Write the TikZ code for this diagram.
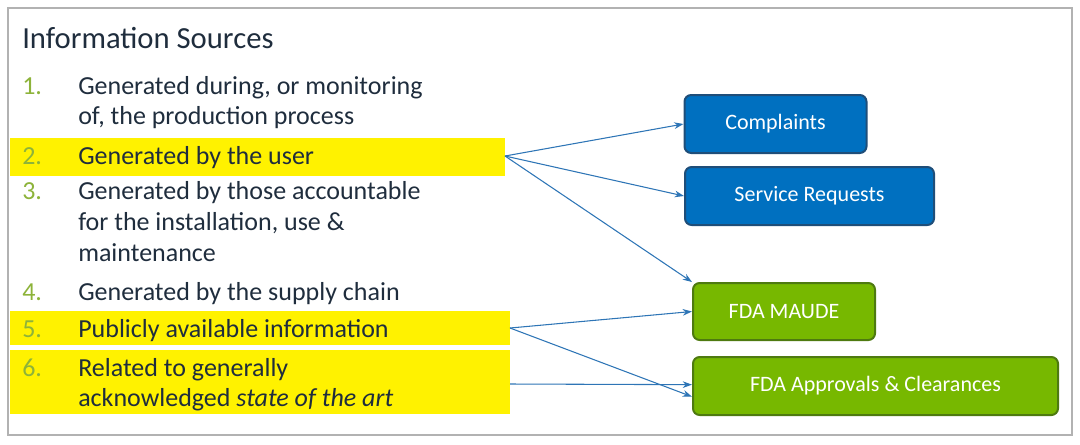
\documentclass[tikz,border=0pt]{standalone}
\usepackage{fontspec}
\setmainfont{Carlito}
\definecolor{numg}{HTML}{8DB33A}
\definecolor{txt}{HTML}{1F2D3D}
\definecolor{bfill}{HTML}{0070C0}
\definecolor{bline}{HTML}{1F4E79}
\definecolor{gfill}{HTML}{77B800}
\definecolor{gline}{HTML}{4E7A10}
\definecolor{arr}{HTML}{2E75B6}
\usetikzlibrary{arrows.meta}
\begin{document}
\begin{tikzpicture}[x=0.75pt,y=-0.75pt,
  num/.style={anchor=base west,text=numg,font=\fontsize{19.5}{23}\selectfont,inner sep=0},
  item/.style={anchor=base west,text=txt,font=\fontsize{19.5}{23}\selectfont,inner sep=0},
  box/.style={draw,line width=1.5pt,rounded corners=5pt,text=white,font=\fontsize{16.5}{20}\selectfont,inner sep=0},
  blue/.style={box,fill=bfill,draw=bline},
  green/.style={box,fill=gfill,draw=gline},
  con/.style={arr,line width=0.8pt,-{Stealth[length=7pt,width=5pt]}}]
\useasboundingbox (0,0) rectangle (1080,444);
\draw[gray!60,line width=0.8pt] (8,8) rectangle (1072,435);
\fill[yellow] (10,138) rectangle (505,176);
\fill[yellow] (10,311) rectangle (510,345);
\fill[yellow] (10,350) rectangle (510,414);
\node[item,font=\fontsize{23}{27}\selectfont] (title) at (22,48) {Information Sources};
\node[num] (n1) at (22,94) {1.};
\node[item] (t1a) at (78,94) {Generated during, or monitoring};
\node[item] (t1b) at (78,124) {of, the production process};
\node[num] (n2) at (22,164) {2.};
\node[item] (t2) at (78,164) {Generated by the user};
\node[num] (n3) at (22,199) {3.};
\node[item] (t3a) at (78,199) {Generated by those accountable};
\node[item] (t3b) at (78,230) {for the installation, use \&};
\node[item] (t3c) at (78,261) {maintenance};
\node[num] (n4) at (22,300) {4.};
\node[item] (t4) at (78,300) {Generated by the supply chain};
\node[num] (n5) at (22,337) {5.};
\node[item] (t5) at (78,337) {Publicly available information};
\node[num] (n6) at (22,376) {6.};
\node[item] (t6a) at (78,376) {Related to generally};
\node[item] (t6b) at (78,406) {acknowledged \textit{state of the art}};
\node[blue,minimum width=136.5pt,minimum height=43.5pt] (c) at (775.5,124) {Complaints};
\node[blue,minimum width=186.75pt,minimum height=43.5pt] (s) at (809.5,196) {Service Requests};
\node[green,minimum width=136.5pt,minimum height=42.75pt] (m) at (784,311.5) {FDA MAUDE};
\node[green,minimum width=273.75pt,minimum height=43.5pt] (a) at (875.5,386) {FDA Approvals \& Clearances};
\coordinate (p2) at (505,156);
\coordinate (p5) at (510,328);
\coordinate (p6) at (510,384);
\draw[con] (p2) -- (c.west);
\draw[con] (p2) -- (s.west);
\draw[con] (p2) -- (m.north west);
\draw[con] (p5) -- (m.west);
\draw[con] (p5) -- ([yshift=-8]a.west);
\draw[con] (p6) -- ([yshift=1]a.west);
\end{tikzpicture}
\end{document}
